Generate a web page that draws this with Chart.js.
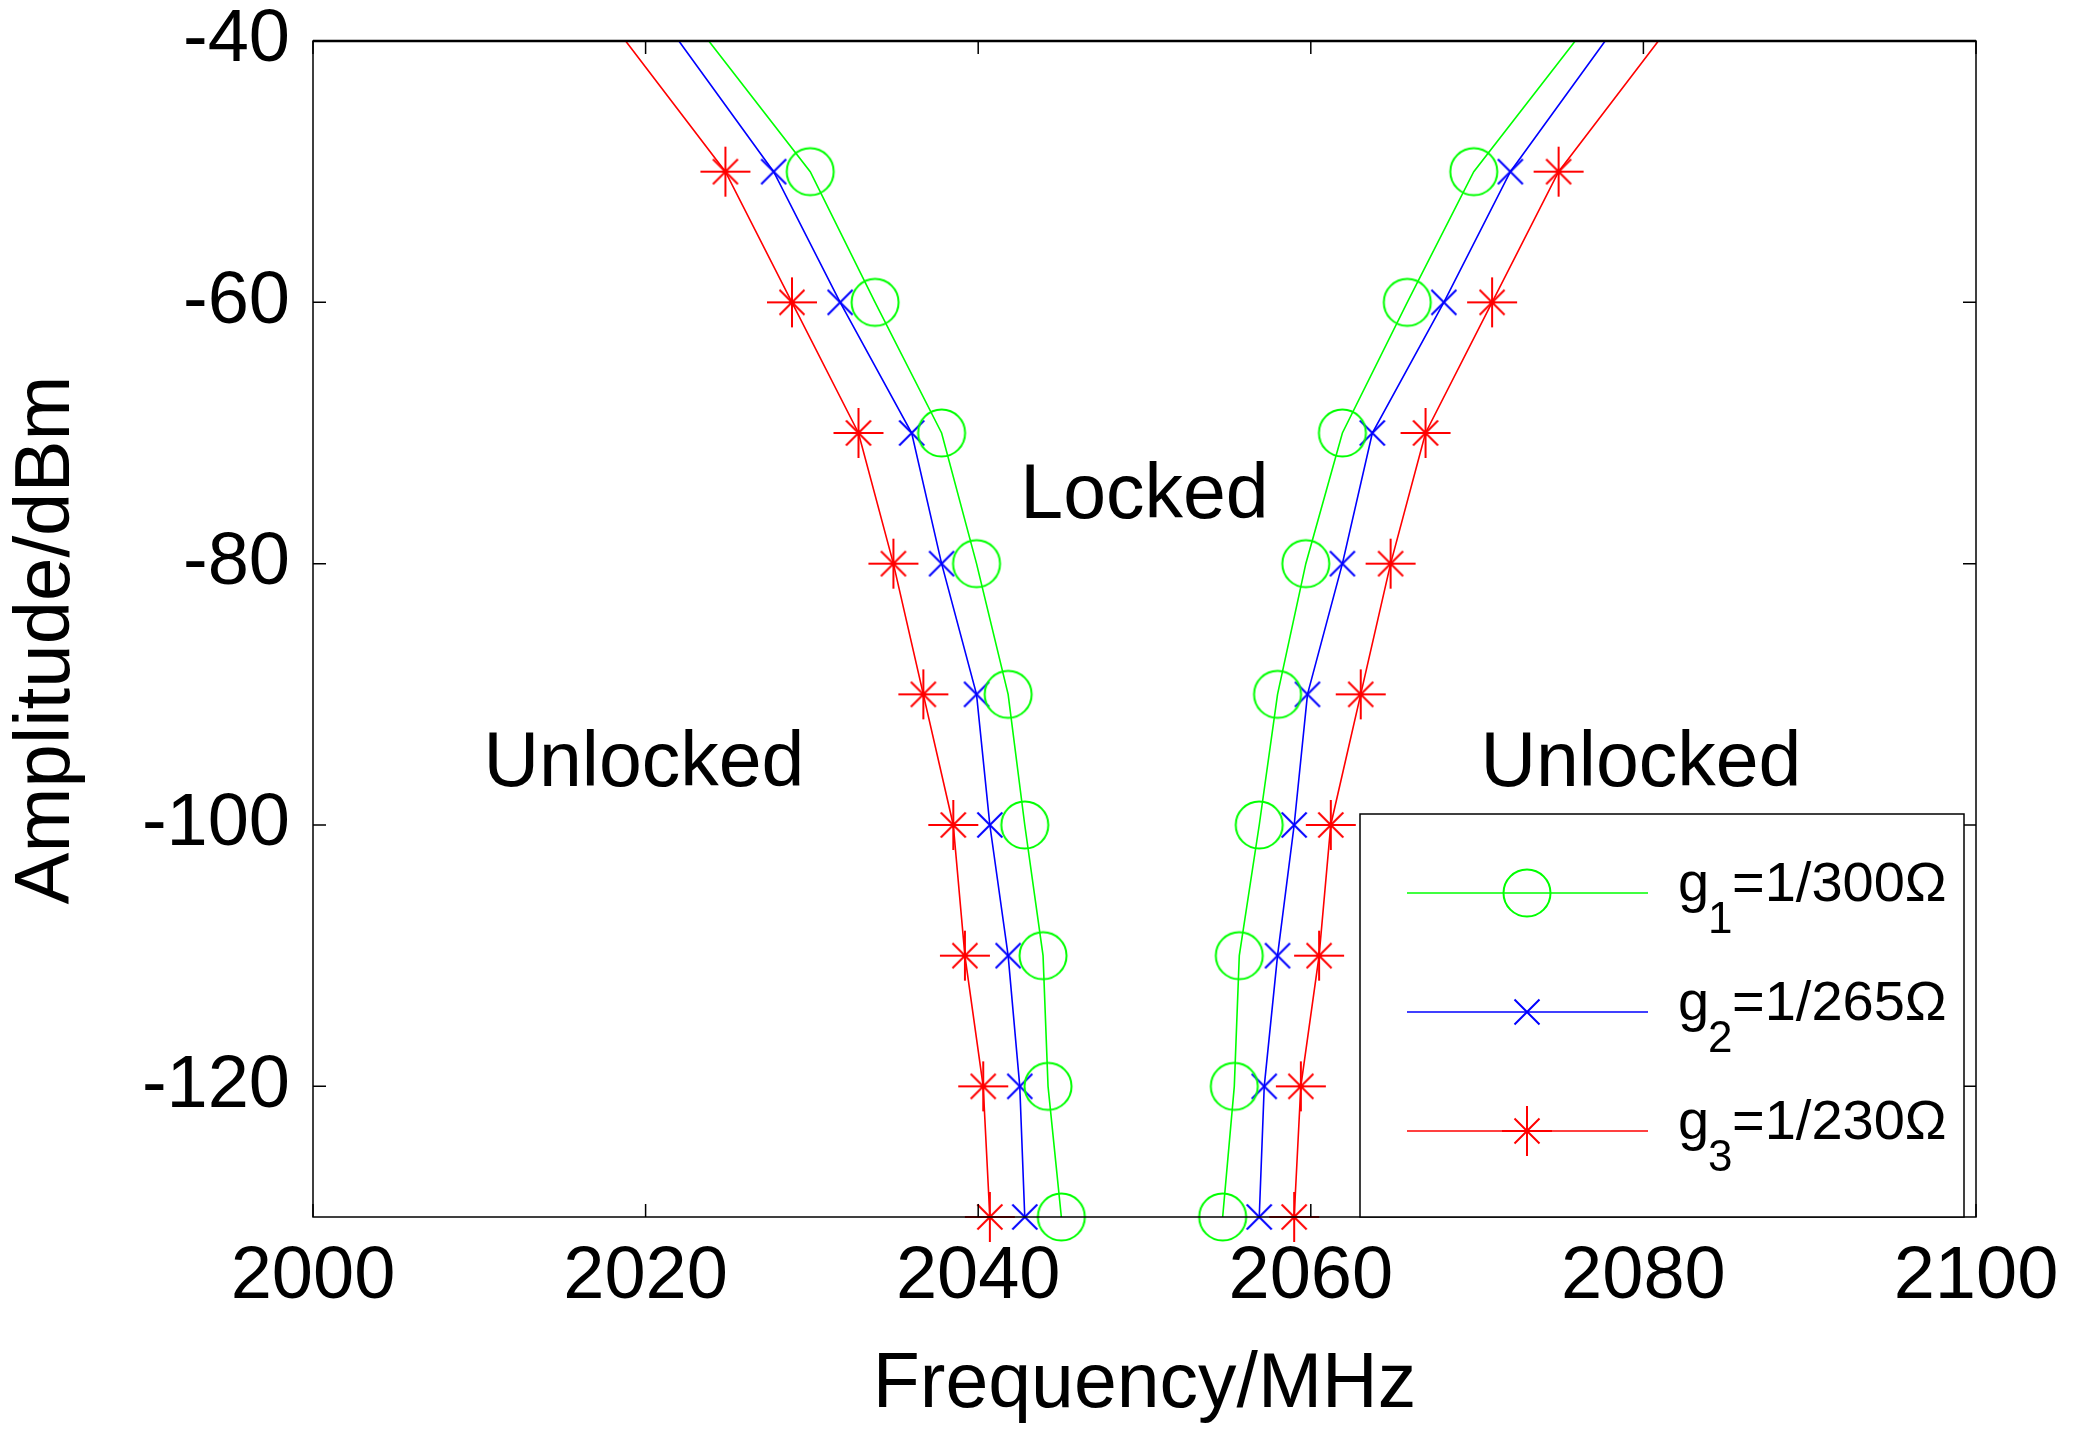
<!DOCTYPE html>
<html lang="en">
<head>
    <meta charset="UTF-8">
    <title>Injection locking range</title>
    <script src="https://cdn.jsdelivr.net/npm/chart.js"></script>
    <style>
        html, body {
            margin: 0;
            padding: 0;
            background: #ffffff;
        }
        .chart-wrapper {
            position: relative;
            width: 2075px;
            height: 1441px;
        }
    </style>
</head>
<body>
<div class="chart-wrapper">
    <canvas id="lockChart"></canvas>
</div>

<script>
    // injection amplitude levels (dBm)
    const levels = [-40, -50, -60, -70, -80, -90, -100, -110, -120, -130];

    // lower / upper edge of the locking range (MHz)
    const g1Left  = [2023.8, 2029.9, 2033.8, 2037.8, 2039.9, 2041.8, 2042.8, 2043.9, 2044.2, 2045.0];
    const g1Right = [2075.9, 2069.8, 2065.8, 2061.9, 2059.7, 2058.0, 2056.9, 2055.7, 2055.4, 2054.7];
    const g2Left  = [2022.0, 2027.7, 2031.7, 2036.0, 2037.8, 2039.9, 2040.7, 2041.8, 2042.5, 2042.8];
    const g2Right = [2077.7, 2072.0, 2068.0, 2063.7, 2061.9, 2059.8, 2059.0, 2058.0, 2057.2, 2056.9];
    const g3Left  = [2018.8, 2024.8, 2028.8, 2032.8, 2034.9, 2036.7, 2038.5, 2039.2, 2040.3, 2040.7];
    const g3Right = [2080.9, 2074.9, 2070.9, 2066.9, 2064.8, 2063.0, 2061.2, 2060.5, 2059.4, 2059.0];

    const xTicks = [2000, 2020, 2040, 2060, 2080, 2100];
    const yTicks = [-40, -60, -80, -100, -120];

    const seriesNames = ['g1', 'g2', 'g3'];
    const seriesSubs = ['1', '2', '3'];
    const seriesValues = ['=1/300\u03a9', '=1/265\u03a9', '=1/230\u03a9'];

    const regionLabels = ['Unlocked', 'Locked', 'Unlocked'];
    const regionX = [2019.9, 2050, 2079.85];
    const regionY = [-97.0, -76.5, -97.0];

    const FONT = '"Liberation Sans", Arial, sans-serif';
    Chart.defaults.font.family = FONT;
    Chart.defaults.color = '#000';

    // marker images
    function makeMarker(kind, color) {
        const c = document.createElement('canvas');
        c.width = 56;
        c.height = 56;
        const m = c.getContext('2d');
        m.strokeStyle = color;
        m.lineWidth = 2;
        m.translate(28, 28);
        m.beginPath();
        if (kind === 'circle') {
            m.arc(0, 0, 23.5, 0, Math.PI * 2);
        } else if (kind === 'x') {
            m.moveTo(-12.5, -12.5); m.lineTo(12.5, 12.5);
            m.moveTo(-12.5, 12.5); m.lineTo(12.5, -12.5);
        } else {
            m.moveTo(-25, 0); m.lineTo(25, 0);
            m.moveTo(0, -25); m.lineTo(0, 25);
            m.moveTo(-12.5, -12.5); m.lineTo(12.5, 12.5);
            m.moveTo(-12.5, 12.5); m.lineTo(12.5, -12.5);
        }
        m.stroke();
        return c;
    }

    const colors = ['#00ff00', '#0000ff', '#ff0000'];
    const markers = [
        makeMarker('circle', colors[0]),
        makeMarker('x', colors[1]),
        makeMarker('star', colors[2])
    ];

    function branch(xs) {
        return levels.map((y, i) => ({ x: xs[i], y: y }));
    }

    const branches = [
        [g1Left, g1Right],
        [g2Left, g2Right],
        [g3Left, g3Right]
    ];

    const datasets = [];
    branches.forEach((pair, s) => {
        pair.forEach(xs => {
            datasets.push({
                label: seriesNames[s],
                data: branch(xs),
                showLine: true,
                borderColor: colors[s],
                borderWidth: 1.6,
                pointStyle: markers[s],
                pointRadius: ctx => (levels[ctx.dataIndex] === -40 ? 0 : 24),
                pointHoverRadius: ctx => (levels[ctx.dataIndex] === -40 ? 0 : 24),
                tension: 0,
                clip: false
            });
        });
    });

    // box, inward ticks, y title, region texts and legend
    const decorPlugin = {
        id: 'decor',
        afterDatasetsDraw(chart) {
            const { ctx, chartArea: a, scales: { x, y } } = chart;
            ctx.save();
            ctx.strokeStyle = '#000';
            ctx.lineWidth = 1.5;
            ctx.beginPath();
            xTicks.forEach(v => {
                const px = x.getPixelForValue(v);
                ctx.moveTo(px, a.bottom); ctx.lineTo(px, a.bottom - 13);
                ctx.moveTo(px, a.top); ctx.lineTo(px, a.top + 13);
            });
            yTicks.forEach(v => {
                const py = y.getPixelForValue(v);
                ctx.moveTo(a.left, py); ctx.lineTo(a.left + 13, py);
                ctx.moveTo(a.right, py); ctx.lineTo(a.right - 13, py);
            });
            ctx.stroke();
            ctx.strokeRect(a.left, a.top, a.right - a.left, a.bottom - a.top);
            ctx.lineWidth = 2.5;
            ctx.beginPath();
            ctx.moveTo(a.left, a.top); ctx.lineTo(a.right, a.top);
            ctx.stroke();

            // y axis title (sits a bit below the plot centre in the original)
            ctx.fillStyle = '#000';
            ctx.save();
            ctx.translate(47, (a.top + a.bottom) / 2 + 11);
            ctx.rotate(-Math.PI / 2);
            ctx.font = '78px ' + FONT;
            ctx.textAlign = 'center';
            ctx.textBaseline = 'middle';
            ctx.fillText('Amplitude/dBm', 0, 0);
            ctx.restore();

            // region labels
            ctx.font = '77px ' + FONT;
            ctx.textAlign = 'center';
            ctx.textBaseline = 'alphabetic';
            regionLabels.forEach((t, i) => {
                ctx.fillText(t, x.getPixelForValue(regionX[i]), y.getPixelForValue(regionY[i]));
            });

            // legend box
            const lx = 1360, ly = 814, lw = a.right - 12 - 1360, lh = a.bottom - 814;
            ctx.fillStyle = '#fff';
            ctx.fillRect(lx, ly, lw, lh);
            ctx.lineWidth = 1.5;
            ctx.strokeStyle = '#000';
            ctx.strokeRect(lx, ly, lw, lh);
            const rows = [893, 1012, 1131];
            seriesNames.forEach((n, i) => {
                const ry = rows[i];
                ctx.strokeStyle = colors[i];
                ctx.lineWidth = 1.6;
                ctx.beginPath();
                ctx.moveTo(1407, ry); ctx.lineTo(1648, ry);
                ctx.stroke();
                ctx.drawImage(markers[i], 1527 - 28, ry - 28);
                ctx.fillStyle = '#000';
                ctx.textAlign = 'left';
                ctx.font = '56px ' + FONT;
                ctx.fillText('g', 1678, ry + 8);
                ctx.font = '44px ' + FONT;
                ctx.fillText(seriesSubs[i], 1708, ry + 40);
                ctx.font = '56px ' + FONT;
                ctx.fillText(seriesValues[i], 1732, ry + 8);
            });
            ctx.restore();
        }
    };

    const config = {
        type: 'scatter',
        data: { datasets: datasets },
        options: {
            responsive: true,
            maintainAspectRatio: false,
            devicePixelRatio: 1,
            animation: false,
            layout: {
                padding: { left: 0, top: 41, right: 99, bottom: 0 }
            },
            plugins: {
                legend: { display: false },
                tooltip: { enabled: false }
            },
            scales: {
                x: {
                    type: 'linear',
                    min: 2000,
                    max: 2100,
                    afterBuildTicks: axis => {
                        axis.ticks = xTicks.map(v => ({ value: v }));
                    },
                    afterFit: axis => {
                        axis.height = 224;
                        axis.paddingLeft = 0;
                        axis.paddingRight = 0;
                    },
                    grid: { display: false, drawTicks: false },
                    border: { display: false },
                    ticks: {
                        font: { size: 74, lineHeight: 1 },
                        color: '#000',
                        padding: 24,
                        maxRotation: 0,
                        callback: v => String(v)
                    },
                    title: {
                        display: true,
                        text: 'Frequency/MHz',
                        font: { size: 77 },
                        color: '#000',
                        padding: { top: 0, bottom: 9 }
                    }
                },
                y: {
                    type: 'linear',
                    min: -130,
                    max: -40,
                    afterBuildTicks: axis => {
                        axis.ticks = yTicks.map(v => ({ value: v }));
                    },
                    afterFit: axis => {
                        axis.width = 313;
                        axis.paddingTop = 0;
                        axis.paddingBottom = 0;
                    },
                    grid: { display: false, drawTicks: false },
                    border: { display: false },
                    ticks: {
                        font: { size: 74, lineHeight: 1 },
                        color: '#000',
                        padding: 23,
                        callback: v => String(v)
                    },
                    title: { display: false }
                }
            }
        },
        plugins: [decorPlugin]
    };

    const ctx = document.getElementById('lockChart').getContext('2d');
    const lockChart = new Chart(ctx, config);
</script>
</body>
</html>
